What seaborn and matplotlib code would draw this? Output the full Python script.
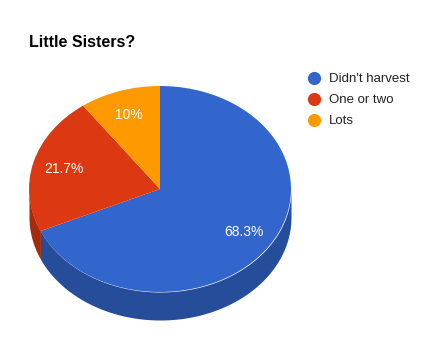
import numpy as np
import seaborn as sns
import matplotlib.pyplot as plt
from matplotlib.colors import to_rgb
from matplotlib.lines import Line2D

sns.set_style("white")
plt.rcParams['font.family'] = ['Liberation Sans', 'DejaVu Sans']

labels = ["Didn't harvest", "One or two", "Lots"]
shares = [68.3, 21.7, 10.0]
colors = ["#3366cc", "#dc3912", "#ff9900"]
title = "Little Sisters?"

W, H = 426, 353
fig = plt.figure(figsize=(W / 100, H / 100), dpi=100)

# top face ellipse in pixels: x 29..291, y 86..292, depth 28 px
cx, rx = 160, 131
top, bot, depth = 86, 292, 28
ry = (bot - top) / 2
d = depth / ry
ax = fig.add_axes([(cx - rx) / W, (H - bot - depth) / H, 2 * rx / W, (2 * ry + depth) / H])
ax.axis('off')

# side wall of the 3D pie (front half only)
fr = np.array(shares) / sum(shares)
start = 90.0
bounds = []
for f in fr:
    end = start - f * 360
    bounds.append((end, start))
    start = end
for (a0, a1), c in zip(bounds, colors):
    side = tuple(v * 0.75 for v in to_rgb(c))
    for shift in (0, 360, -360):
        lo, hi = max(a0 + shift, 180), min(a1 + shift, 360)
        if lo < hi:
            t = np.radians(np.linspace(lo, hi, 200))
            x = np.cos(t)
            y = np.sin(t)
            ax.fill_between(x, y, y - d, color=side, lw=0)

def fmt(p):
    s = f"{p:.1f}"
    return (s[:-2] if s.endswith(".0") else s) + "%"

wedges, _, autotexts = ax.pie(shares, colors=colors, startangle=90, counterclock=False,
                              autopct=fmt, pctdistance=0.76, radius=1,
                              textprops=dict(color="white", fontsize=10),
                              wedgeprops=dict(linewidth=0))
ax.set_xlim(-1, 1)
ax.set_ylim(-1 - d, 1)
ax.set_aspect('auto')

fig.text(29 / W, 1 - 47 / H, title, fontsize=11.5, fontweight='bold', color='black', va='baseline')

leg_y = [78, 99, 120]
for lab, c, yy in zip(labels, colors, leg_y):
    fig.lines.append(Line2D([314 / W], [1 - yy / H], transform=fig.transFigure, marker='o',
                            markersize=9.5, color=c, markeredgewidth=0, linestyle='none'))
    fig.text(329 / W, 1 - yy / H, lab, fontsize=9.5, color='#222222', va='center_baseline')

fig.savefig("out.png", dpi=100)
